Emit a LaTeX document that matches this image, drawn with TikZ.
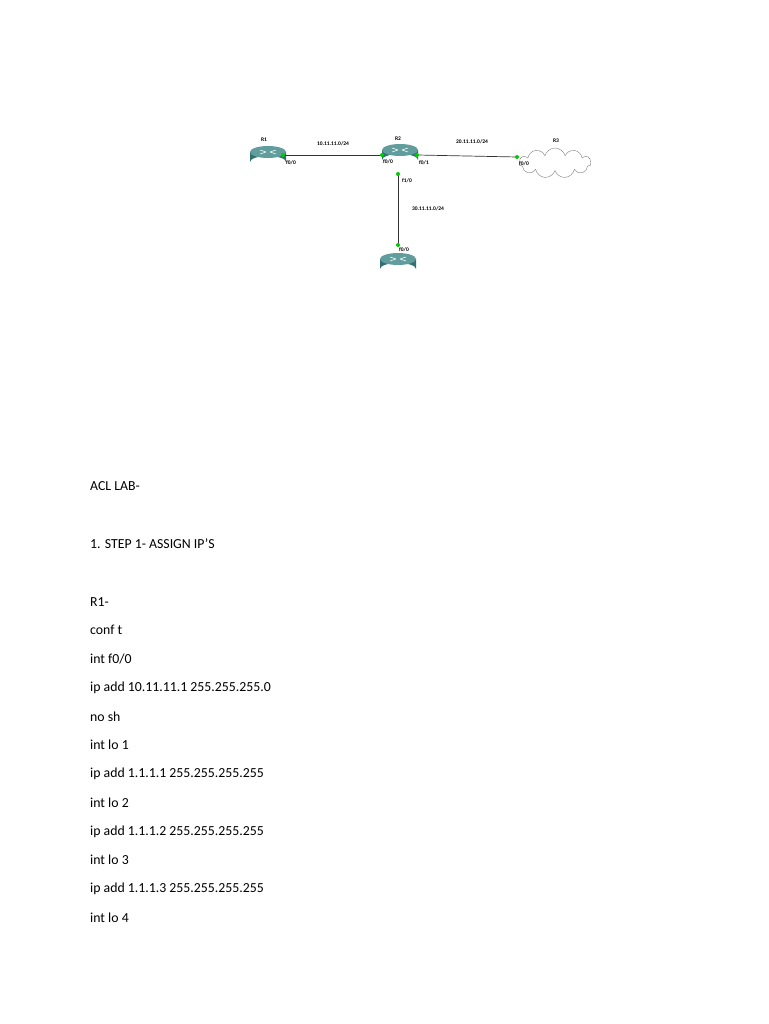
\documentclass[tikz,border=0pt]{standalone}
\usetikzlibrary{shapes.symbols}
\usepackage{fontspec}
\setmainfont{Carlito}
\begin{document}
\begin{tikzpicture}[x=1pt,y=-1pt,
  lbl/.style={font=\fontsize{5.5}{6}\selectfont\bfseries,inner sep=0pt},
  txt/.style={font=\fontsize{13.8}{16}\selectfont,anchor=west,inner sep=0pt},
  dot/.style={circle,fill=green!80!black,inner sep=0pt,minimum size=4pt},
  link/.style={draw=black!80,line width=0.7pt}]
\useasboundingbox (0,0) rectangle (768,1024);
\newcommand{\router}[3]{%
  \fill[teal!60!black!80] (#1-18,#2-5) -- (#1-18,#2+5) arc[start angle=180,end angle=360,x radius=18,y radius=6] -- (#1+18,#2-5) -- cycle;
  \fill[teal!55!white!85!black] (#1,#2-5) ellipse[x radius=18,y radius=6];
  \draw[white,line width=0.5pt] (#1-8,#2-7)--(#1-2,#2-5) (#1+8,#2-7)--(#1+2,#2-5) (#1-8,#2-3)--(#1-2,#2-5) (#1+8,#2-3)--(#1+2,#2-5);
  \coordinate (#3) at (#1,#2);}
\router{268}{157}{r1}
\router{400}{155}{r2}
\router{398}{264}{r4}
\node[draw=black!50,cloud,cloud puffs=11,aspect=2.6,minimum width=72pt,minimum height=30pt,inner sep=0pt,line width=0.4pt] (r3) at (555,163) {};
\coordinate (d1) at (283,155);
\coordinate (d2) at (382,155);
\coordinate (d3) at (417,155);
\coordinate (d4) at (517,157);
\coordinate (d5) at (398,174);
\coordinate (d6) at (398,245);
\draw[link] (d1)--(d2);
\draw[link] (d3)--(d4);
\draw[link] (d5)--(d6);
\foreach \d in {d1,d2,d3,d4,d5,d6} \node[dot] at (\d) {};
\node[lbl] (lr1) at (264,140) {R1};
\node[lbl] (lr2) at (398,139) {R2};
\node[lbl] (lr3) at (556,141) {R3};
\node[lbl] (n1) at (333,144) {10.11.11.0/24};
\node[lbl] (n2) at (472,142) {20.11.11.0/24};
\node[lbl] (n3) at (428,209) {30.11.11.0/24};
\node[lbl] (i1) at (291,163) {f0/0};
\node[lbl] (i2) at (388,162) {f0/0};
\node[lbl] (i3) at (424,163) {f0/1};
\node[lbl] (i4) at (524,164) {f0/0};
\node[lbl] (i5) at (407,181) {f1/0};
\node[lbl] (i6) at (404,250) {f0/0};
\foreach \y/\t in {486/{ACL LAB-},544/{1. STEP 1- ASSIGN IP'S},602/{R1-},630/{conf t},659/{int f0/0},688/{ip add 10.11.11.1 255.255.255.0},717/{no sh},745/{int lo 1},774/{ip add 1.1.1.1 255.255.255.255},803/{int lo 2},832/{ip add 1.1.1.2 255.255.255.255},860/{int lo 3},889/{ip add 1.1.1.3 255.255.255.255},918/{int lo 4}}
  \node[txt] at (90,\y) {\t};
\end{tikzpicture}
\end{document}
